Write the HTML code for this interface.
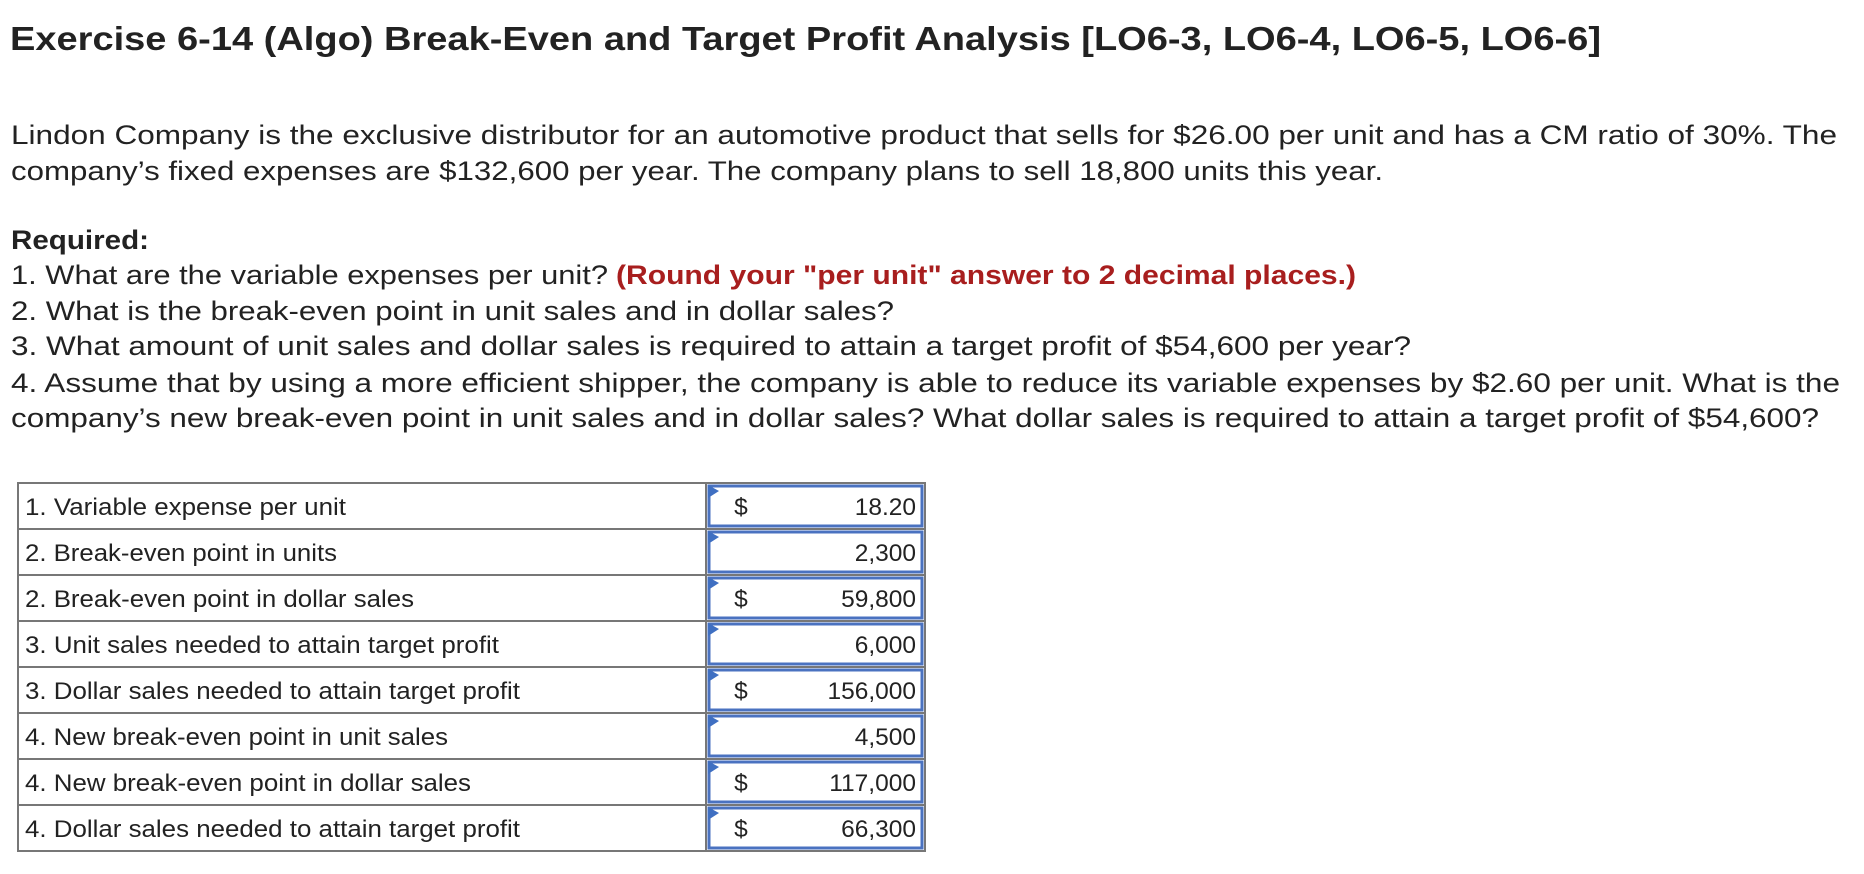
<!DOCTYPE html>
<html><head><meta charset="utf-8"><style>
html,body{margin:0;padding:0;background:#fff;}
svg{display:block;}
text{font-family:"Liberation Sans",Arial,sans-serif;fill:#222;}
</style></head><body>
<svg width="1864" height="874" viewBox="0 0 1864 874" xmlns="http://www.w3.org/2000/svg">
<text x="10" y="50" font-size="33" font-weight="bold" textLength="1591" lengthAdjust="spacingAndGlyphs">Exercise 6-14 (Algo) Break-Even and Target Profit Analysis [LO6-3, LO6-4, LO6-5, LO6-6]</text>
<g font-size="27">
<text x="11" y="144" textLength="1826" lengthAdjust="spacingAndGlyphs">Lindon Company is the exclusive distributor for an automotive product that sells for $26.00 per unit and has a CM ratio of 30%. The</text>
<text x="11" y="180" textLength="1372" lengthAdjust="spacingAndGlyphs">company’s fixed expenses are $132,600 per year. The company plans to sell 18,800 units this year.</text>
</g>
<text x="11" y="249" font-size="27" font-weight="bold" textLength="138" lengthAdjust="spacingAndGlyphs">Required:</text>
<g font-size="27">
<text x="11" y="284" textLength="597" lengthAdjust="spacingAndGlyphs">1. What are the variable expenses per unit?</text>
<text x="616" y="284" font-weight="bold" style="fill:#a81e1e" textLength="740" lengthAdjust="spacingAndGlyphs">(Round your "per unit" answer to 2 decimal places.)</text>
<text x="11" y="320" textLength="883" lengthAdjust="spacingAndGlyphs">2. What is the break-even point in unit sales and in dollar sales?</text>
<text x="11" y="355" textLength="1400" lengthAdjust="spacingAndGlyphs">3. What amount of unit sales and dollar sales is required to attain a target profit of $54,600 per year?</text>
<text x="11" y="392" textLength="1829" lengthAdjust="spacingAndGlyphs">4. Assume that by using a more efficient shipper, the company is able to reduce its variable expenses by $2.60 per unit. What is the</text>
<text x="11" y="427" textLength="1808" lengthAdjust="spacingAndGlyphs">company’s new break-even point in unit sales and in dollar sales? What dollar sales is required to attain a target profit of $54,600?</text>
</g>
<g id="tbl"></g>
</svg>
<script>
const labels=["1. Variable expense per unit","2. Break-even point in units","2. Break-even point in dollar sales","3. Unit sales needed to attain target profit","3. Dollar sales needed to attain target profit","4. New break-even point in unit sales","4. New break-even point in dollar sales","4. Dollar sales needed to attain target profit"];
const labelW=[321,312,389,474,495,423,446,495];
const values=["18.20","2,300","59,800","6,000","156,000","4,500","117,000","66,300"];
const dollar=[true,false,true,false,true,false,true,true];
const NS="http://www.w3.org/2000/svg";
const g=document.getElementById('tbl');
function mk(tag,attrs,parent){const e=document.createElementNS(NS,tag);for(const k in attrs)e.setAttribute(k,attrs[k]);(parent||g).appendChild(e);return e;}
const top0=483,rh=46,L=18,M=706,R=925;
for(let i=0;i<labels.length;i++){
  const y=top0+i*rh;
  const row=mk('g',{});
  
  
  const lc=mk('rect',{x:L,y:y,width:M-L,height:rh,fill:'#fff',stroke:'#777','stroke-width':2},row);
  
  
  const t=mk('text',{x:25,y:y+32,'font-size':24.5,textLength:labelW[i],lengthAdjust:'spacingAndGlyphs'},row);
  t.textContent=labels[i];
  
  
  const oc=mk('rect',{x:M,y:y,width:R-M,height:rh,fill:'none',stroke:'#777','stroke-width':2},row);
  
  
  const ib=mk('rect',{x:709,y:y+3,width:213,height:rh-6,fill:'#fff',stroke:'#4a72c0','stroke-width':3},row);
  
  
  const tri=mk('polygon',{points:`708,${y+2} 719,${y+8} 708,${y+15}`,fill:'#3f6fc2'},row);
  
  
  if(dollar[i]){const d=mk('text',{x:741,y:y+32,'font-size':24.5,'text-anchor':'middle'},row);d.textContent='$';
    
    }
  const v=mk('text',{x:916,y:y+32,'font-size':24.5,'text-anchor':'end'},row);
  v.textContent=values[i];
  
  
}
</script>
</body></html>
